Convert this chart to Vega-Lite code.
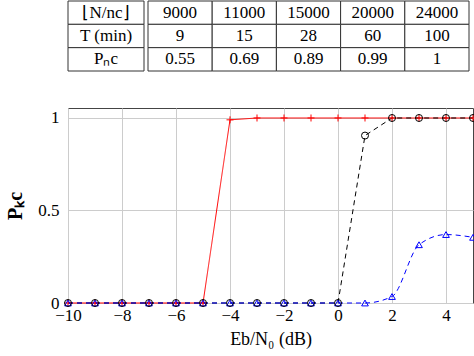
{
  "$schema": "https://vega.github.io/schema/vega-lite/v6.json",
  "padding": {"left": 5, "top": 0, "right": 4, "bottom": 5},
  "background": "white",
  "config": {
    "view": {"stroke": null},
    "font": "Liberation Serif",
    "text": {"font": "Liberation Serif"},
    "axis": {"labelFont": "Liberation Serif", "titleFont": "Liberation Serif"},
    "legend": {"labelFont": "Liberation Serif"}
  },
  "resolve": {
    "scale": {"shape": "independent", "color": "independent", "strokeDash": "independent"},
    "legend": {"shape": "independent", "color": "independent", "strokeDash": "independent"}
  },
  "datasets": {
    "table": [
      {"r": 1, "c": 0, "v": "⌊N/nc⌋"},
      {"r": 2, "c": 0, "v": "T (min)"},
      {"r": 3, "c": 0, "v": "Pₙc"},
      {"r": 1, "c": 1, "v": "9000"},
      {"r": 2, "c": 1, "v": "9"},
      {"r": 3, "c": 1, "v": "0.55"},
      {"r": 1, "c": 2, "v": "11000"},
      {"r": 2, "c": 2, "v": "15"},
      {"r": 3, "c": 2, "v": "0.69"},
      {"r": 1, "c": 3, "v": "15000"},
      {"r": 2, "c": 3, "v": "28"},
      {"r": 3, "c": 3, "v": "0.89"},
      {"r": 1, "c": 4, "v": "20000"},
      {"r": 2, "c": 4, "v": "60"},
      {"r": 3, "c": 4, "v": "0.99"},
      {"r": 1, "c": 5, "v": "24000"},
      {"r": 2, "c": 5, "v": "100"},
      {"r": 3, "c": 5, "v": "1"}
    ],
    "curves": [
      {"s": "C₁", "x": -10, "y": 0}, {"s": "C₁", "x": -9, "y": 0}, {"s": "C₁", "x": -8, "y": 0},
      {"s": "C₁", "x": -7, "y": 0}, {"s": "C₁", "x": -6, "y": 0}, {"s": "C₁", "x": -5, "y": 0},
      {"s": "C₁", "x": -4, "y": 0.99}, {"s": "C₁", "x": -3, "y": 1}, {"s": "C₁", "x": -2, "y": 1},
      {"s": "C₁", "x": -1, "y": 1}, {"s": "C₁", "x": 0, "y": 1}, {"s": "C₁", "x": 1, "y": 1},
      {"s": "C₁", "x": 2, "y": 1}, {"s": "C₁", "x": 3, "y": 1}, {"s": "C₁", "x": 4, "y": 1},
      {"s": "C₁", "x": 5, "y": 1},
      {"s": "C₂", "x": -10, "y": 0}, {"s": "C₂", "x": -9, "y": 0}, {"s": "C₂", "x": -8, "y": 0},
      {"s": "C₂", "x": -7, "y": 0}, {"s": "C₂", "x": -6, "y": 0}, {"s": "C₂", "x": -5, "y": 0},
      {"s": "C₂", "x": -4, "y": 0}, {"s": "C₂", "x": -3, "y": 0}, {"s": "C₂", "x": -2, "y": 0},
      {"s": "C₂", "x": -1, "y": 0}, {"s": "C₂", "x": 0, "y": 0}, {"s": "C₂", "x": 1, "y": 0},
      {"s": "C₂", "x": 2, "y": 0.035}, {"s": "C₂", "x": 3, "y": 0.315}, {"s": "C₂", "x": 4, "y": 0.37},
      {"s": "C₂", "x": 5, "y": 0.355},
      {"s": "C₃", "x": -10, "y": 0}, {"s": "C₃", "x": -9, "y": 0}, {"s": "C₃", "x": -8, "y": 0},
      {"s": "C₃", "x": -7, "y": 0}, {"s": "C₃", "x": -6, "y": 0}, {"s": "C₃", "x": -5, "y": 0},
      {"s": "C₃", "x": -4, "y": 0}, {"s": "C₃", "x": -3, "y": 0}, {"s": "C₃", "x": -2, "y": 0},
      {"s": "C₃", "x": -1, "y": 0}, {"s": "C₃", "x": 0, "y": 0}, {"s": "C₃", "x": 1, "y": 0.905},
      {"s": "C₃", "x": 2, "y": 1}, {"s": "C₃", "x": 3, "y": 1}, {"s": "C₃", "x": 4, "y": 1},
      {"s": "C₃", "x": 5, "y": 1}
    ]
  },
  "spacing": 35,
  "vconcat": [
    {
      "spacing": 2,
      "hconcat": [
        {
          "width": 76, "height": 70,
          "data": {"name": "table"},
          "transform": [{"filter": "datum.c == 0"}],
          "encoding": {
            "x": {"field": "c", "type": "ordinal", "axis": null, "scale": {"paddingInner": 0, "paddingOuter": 0}},
            "y": {"field": "r", "type": "ordinal", "scale": {"paddingInner": 0, "paddingOuter": 0},
                  "axis": {"labels": false, "ticks": false, "domain": false, "grid": false, "title": null, "minExtent": 20, "maxExtent": 20}}
          },
          "layer": [
            {"mark": {"type": "rect", "fill": "white", "stroke": "#333", "strokeWidth": 1}},
            {"mark": {"type": "text", "fontSize": 17, "color": "black", "font": "Liberation Serif"},
             "encoding": {"text": {"field": "v"},
                          "fontWeight": {"condition": {"test": "datum.r == 3", "value": "bold"}, "value": "normal"}}}
          ]
        },
        {
          "width": 321, "height": 70,
          "data": {"name": "table"},
          "transform": [{"filter": "datum.c > 0"}],
          "encoding": {
            "x": {"field": "c", "type": "ordinal", "axis": null, "scale": {"paddingInner": 0, "paddingOuter": 0}},
            "y": {"field": "r", "type": "ordinal", "axis": null, "scale": {"paddingInner": 0, "paddingOuter": 0}}
          },
          "layer": [
            {"mark": {"type": "rect", "fill": "white", "stroke": "#333", "strokeWidth": 1}},
            {"mark": {"type": "text", "fontSize": 17, "color": "black", "font": "Liberation Serif"}, "encoding": {"text": {"field": "v"}}}
          ]
        }
      ]
    },
    {
      "width": 405, "height": 195,
      "view": {"stroke": "#444", "strokeWidth": 1},
      "data": {"name": "curves"},
      "encoding": {
        "x": {"field": "x", "type": "quantitative", "scale": {"domain": [-10, 5], "nice": false, "zero": false},
              "axis": {"values": [-10, -8, -6, -4, -2, 0, 2, 4], "format": "d", "grid": true, "gridColor": "#cccccc",
                       "ticks": false, "domain": false, "labelFontSize": 17, "labelPadding": 4, "labelFlush": false,
                       "labelColor": "black", "title": "Eb/N₀ (dB)", "titleFontSize": 18, "titleFontWeight": "normal",
                       "titleColor": "black", "titlePadding": 7}},
        "y": {"field": "y", "type": "quantitative", "scale": {"domain": [0, 1.054], "nice": false},
              "axis": {"values": [0, 0.5, 1], "format": "~r", "grid": true, "gridColor": "#cccccc",
                       "ticks": false, "domain": false, "labelFontSize": 17, "labelPadding": 9, "labelFlush": false,
                       "labelColor": "black", "title": "Pₖc", "titleFontSize": 20, "titleFontWeight": "bold",
                       "titleColor": "black", "titlePadding": 12}}
      },
      "layer": [
        {
          "transform": [{"filter": "datum.s != 'C₂'"}],
          "mark": {"type": "line", "strokeWidth": 1},
          "encoding": {
            "color": {"field": "s", "type": "nominal", "legend": null,
                      "scale": {"domain": ["C₁", "C₂", "C₃"], "range": ["#ff0000", "#0000ff", "#000000"]}},
            "strokeDash": {"field": "s", "type": "nominal", "legend": null,
                           "scale": {"domain": ["C₁", "C₂", "C₃"], "range": [[1, 0], [5, 4], [5, 4]]}}
          }
        },
        {
          "transform": [{"filter": "datum.s == 'C₂'"}],
          "mark": {"type": "line", "strokeWidth": 1, "interpolate": "monotone", "stroke": "#0000ff", "strokeDash": [5, 4]},
          "encoding": {}
        },
        {
          "transform": [{"filter": "datum.s == 'C₁'"}],
          "mark": {"type": "point", "shape": "M-1,0L1,0M0,-1L0,1", "filled": false, "stroke": "#ff0000", "strokeWidth": 1, "size": 49, "opacity": 1}
        },
        {
          "transform": [{"filter": "datum.s == 'C₂'"}],
          "mark": {"type": "point", "shape": "triangle-up", "filled": false, "stroke": "#0000ff", "strokeWidth": 1, "size": 45, "opacity": 1}
        },
        {
          "transform": [{"filter": "datum.s == 'C₃'"}],
          "mark": {"type": "point", "shape": "circle", "filled": false, "stroke": "#000000", "strokeWidth": 1, "size": 49, "opacity": 1}
        },
        {
          "transform": [{"filter": "datum.x == -10"}],
          "mark": {"type": "point", "filled": false, "strokeWidth": 1, "opacity": 0, "color": "black"},
          "encoding": {
            "shape": {"field": "s", "type": "nominal",
                      "scale": {"domain": ["C₁", "C₂", "C₃"],
                                "range": ["M-1,0L2.3,0M0.65,-0.35L0.65,0.35",
                                          "M-1,0L-0.3,0M1.6,0L2.3,0M0.65,-0.35L0.98,0.22L0.32,0.22Z",
                                          "M-1,0L-0.3,0M1.6,0L2.3,0M0.98,0A0.33,0.33 0 1,1 0.32,0A0.33,0.33 0 1,1 0.98,0"]},
                      "legend": {"orient": "top-left", "offset": 12, "title": null,
                                 "strokeColor": "#333", "fillColor": "white", "padding": 6,
                                 "symbolSize": 400, "symbolStrokeWidth": 1,
                                 "labelFontSize": 18, "labelOffset": 17, "rowPadding": 4}}
          }
        }
      ]
    }
  ]
}
